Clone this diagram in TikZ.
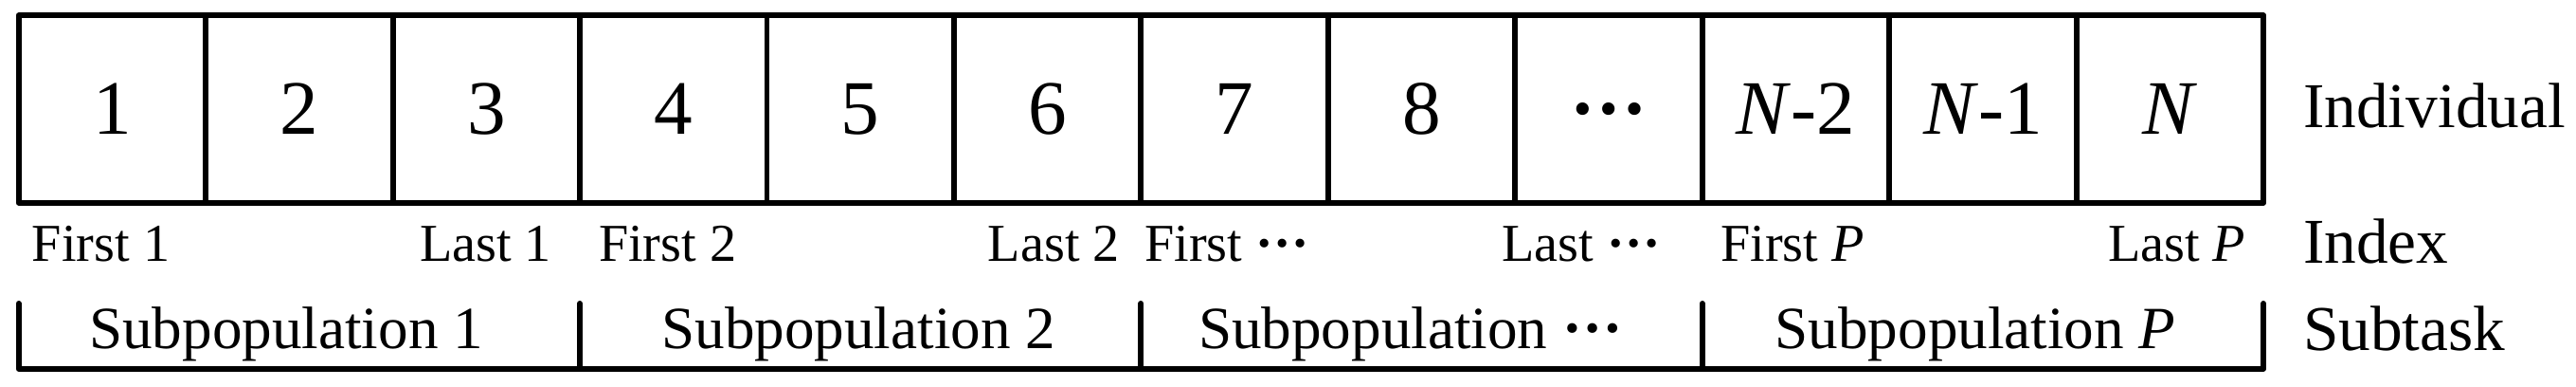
\documentclass[tikz,border=0pt]{standalone}
\usepackage{fontspec}
\setmainfont{Liberation Serif}
\newcommand{\middots}{\raisebox{0.27em}{\textbf{…}}}
\usepackage{tikz}
\usetikzlibrary{positioning, calc}

\begin{document}
\begin{tikzpicture}[
    line width=0.86pt,
    line join=round,
    line cap=round,
    cell/.style={rectangle, draw, minimum width=1cm, minimum height=1cm, inner sep=0pt, outer sep=0pt, font=\fontsize{11.7pt}{14pt}\selectfont},
    idxlabel/.style={inner sep=0pt, font=\fontsize{8.1pt}{10pt}\selectfont},
    grouplabel/.style={inner sep=0pt, anchor=base, font=\fontsize{9.1pt}{11pt}\selectfont},
    rowlabel/.style={inner sep=0pt, anchor=base west, font=\fontsize{9.7pt}{12pt}\selectfont}
]
\useasboundingbox (-0.0998,0.0826) rectangle (13.671,-1.979);

% Individuals
\node[cell] (c1) at (0.5,-0.5) {1};
\node[cell] (c2) at (1.5,-0.5) {2};
\node[cell] (c3) at (2.5,-0.5) {3};
\node[cell] (c4) at (3.5,-0.5) {4};
\node[cell] (c5) at (4.5,-0.5) {5};
\node[cell] (c6) at (5.5,-0.5) {6};
\node[cell] (c7) at (6.5,-0.5) {7};
\node[cell] (c8) at (7.5,-0.5) {8};
\node[cell, text height=8pt, text depth=0pt] (c9) at (8.5,-0.5) {\middots};
\node[cell] (c10) at (9.5,-0.5) {\textit{N}-2};
\node[cell] (c11) at (10.5,-0.5) {\textit{N}-1};
\node[cell] (c12) at (11.5,-0.5) {\textit{N}};

% Index labels
\node[idxlabel, anchor=base west] (f1) at (0.057,-1.312) {First 1};
\node[idxlabel, anchor=base east] (l1) at (2.863,-1.312) {Last 1};
\node[idxlabel, anchor=base west] (f2) at (3.086,-1.312) {First 2};
\node[idxlabel, anchor=base east] (l2) at (5.901,-1.312) {Last 2};
\node[idxlabel, anchor=base west] (f3) at (6.005,-1.312) {First \middots};
\node[idxlabel, anchor=base east] (l3) at (8.79,-1.312) {Last \middots};
\node[idxlabel, anchor=base west] (f4) at (9.083,-1.312) {First \textit{P}};
\node[idxlabel, anchor=base east] (l4) at (11.92,-1.312) {Last \textit{P}};

% Subtask brackets
\coordinate (b0) at (0,-1.887);
\coordinate (b1) at (3,-1.887);
\coordinate (b2) at (6,-1.887);
\coordinate (b3) at (9,-1.887);
\coordinate (b4) at (12,-1.887);
\draw ($(b0)+(0,0.349)$) -- (b0) -- (b4) -- ++(0,0.349);
\draw (b1) -- ++(0,0.349);
\draw (b2) -- ++(0,0.349);
\draw (b3) -- ++(0,0.349);

\node[grouplabel] (s1) at (1.43,-1.781) {Subpopulation 1};
\node[grouplabel] (s2) at (4.49,-1.781) {Subpopulation 2};
\node[grouplabel] (s3) at (7.44,-1.781) {Subpopulation \middots};
\node[grouplabel] (s4) at (10.46,-1.781) {Subpopulation \textit{P}};

% Row labels
\node[rowlabel] (individual) at (12.198,-0.601) {Individual};
\node[rowlabel] (index) at (12.198,-1.325) {Index};
\node[rowlabel] (subtask) at (12.198,-1.791) {Subtask};

\end{tikzpicture}
\end{document}
